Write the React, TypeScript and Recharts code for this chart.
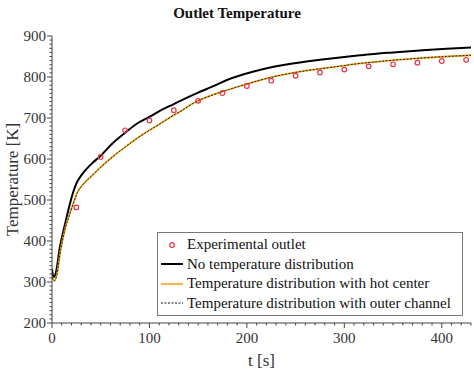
import React from 'react';
import { ComposedChart, Line, Scatter, XAxis, YAxis, Legend } from 'recharts';

const FONT = "'Liberation Serif', Tinos, 'Times New Roman', 'DejaVu Serif', serif";

// Experimental outlet
const expTime = [25, 50, 75, 100, 125, 150, 175, 200, 225, 250, 275, 300, 325, 350, 375, 400, 425];
const expTemp = [482, 605, 670, 694, 719, 742, 761, 778, 791, 803, 811, 818, 826, 831, 835, 839, 842];

// No temperature distribution
const noDistTime = [0, 1.5, 3, 5, 8, 12, 16, 20, 23, 26, 30, 40, 50, 62, 75, 87, 100, 112, 125, 137, 150, 165, 179, 196, 213, 230, 247, 265, 282, 300, 316, 333, 350, 367, 384, 405, 430];
const noDistTemp = [332, 312, 315, 335, 384, 427, 468, 505, 528, 545, 560, 587, 608, 638, 664, 686, 703, 719, 734, 748, 762, 777, 792, 806, 817, 826, 833, 839, 844, 849, 853, 857, 860, 863, 866, 869, 872];

// Temperature distribution with hot center
const hotTime = [0, 2.5, 5, 9, 14, 19, 23, 26, 30, 35, 40, 50, 62, 75, 87, 100, 111, 125, 131, 145, 160, 174.5, 196, 213, 230, 247, 265, 282, 300, 316, 333, 350, 367, 384, 405, 430];
const hotTemp = [312, 303, 318, 380, 435, 472, 500, 518, 533, 546, 557, 580, 605, 629, 650, 670, 686, 707, 715, 736, 752, 764, 780, 792, 802, 810, 817, 822, 828, 833, 837, 841, 844, 847, 850, 853];

// Temperature distribution with outer channel
const outerTime = [0, 2.5, 5, 9, 14, 19, 23, 26, 30, 35, 40, 50, 62, 75, 87, 100, 111, 125, 131, 145, 160, 174.5, 196, 213, 230, 247, 265, 282, 300, 316, 333, 350, 367, 384, 405, 430];
const outerTemp = [311, 303, 318, 380, 434, 471, 499, 518, 533, 546, 557, 580, 605, 629, 650, 670, 686, 707, 715, 736, 752, 764, 780, 792, 802, 810, 817, 822, 828, 833, 837, 841, 844, 847, 850, 853];

const xMajorTicks = [0, 100, 200, 300, 400];
const yMajorTicks = [200, 300, 400, 500, 600, 700, 800, 900];

const seriesNames = [
  'Experimental outlet',
  'No temperature distribution',
  'Temperature distribution with hot center',
  'Temperature distribution with outer channel',
];

const toData = (ts: number[], vs: number[]) => ts.map((t, i) => ({ t, T: vs[i] }));
const expData = toData(expTime, expTemp);
const noDistData = toData(noDistTime, noDistTemp);
const hotData = toData(hotTime, hotTemp);
const outerData = toData(outerTime, outerTemp);

const range = (a: number, b: number, s: number) => {
  const r: number[] = [];
  for (let v = a; v <= b + 1e-9; v += s) r.push(v);
  return r;
};
const xTicks = range(0, 430, 10);
const yTicks = range(200, 900, 10);

const AXIS = '#444';
const TEXT = '#333';
const RED = '#e8364a';
const GOLD = '#f2a516';

const YTick = (props: any) => {
  const { x, y, payload } = props;
  const major = yMajorTicks.includes(payload.value);
  return (
    <g>
      <line x1={x} x2={x - (major ? 5 : 2.5)} y1={y} y2={y} stroke={AXIS} strokeWidth={1} />
      {major && (
        <text x={x - 6} y={y} dy="0.35em" textAnchor="end" fill={TEXT} fontSize={15} style={{ fontFamily: FONT }}>
          {payload.value}
        </text>
      )}
    </g>
  );
};

const XTick = (props: any) => {
  const { x, y, payload } = props;
  const major = xMajorTicks.includes(payload.value);
  return (
    <g>
      <line x1={x} x2={x} y1={y} y2={y + (major ? 5 : 2.5)} stroke={AXIS} strokeWidth={1} />
      {major && (
        <text x={x} y={y + 8} dy="0.8em" textAnchor="middle" fill={TEXT} fontSize={15} style={{ fontFamily: FONT }}>
          {payload.value}
        </text>
      )}
    </g>
  );
};

const renderLegend = () => {
  const row = (marker: React.ReactNode, label: string) => (
    <div key={label} style={{ display: 'flex', alignItems: 'center', height: 19.5 }}>
      <svg width={24} height={12} style={{ flex: 'none' }}>
        {marker}
      </svg>
      <span style={{ marginLeft: 3, whiteSpace: 'nowrap' }}>{label}</span>
    </div>
  );
  return (
    <div
      style={{
        border: '1px solid #777',
        padding: '2px 6px 2px 2px',
        background: '#fff',
        fontFamily: FONT,
        fontSize: 15,
        color: '#111',
        lineHeight: '19px',
        boxSizing: 'border-box',
        width: 306,
      }}
    >
      {row(<circle cx={12} cy={6} r={2.3} fill="none" stroke={RED} strokeWidth={1.2} />, seriesNames[0])}
      {row(<line x1={1} x2={23} y1={6} y2={6} stroke="#000" strokeWidth={2} />, seriesNames[1])}
      {row(<line x1={1} x2={23} y1={6} y2={6} stroke={GOLD} strokeWidth={1.6} />, seriesNames[2])}
      {row(<line x1={1} x2={23} y1={6} y2={6} stroke="#111" strokeWidth={1} strokeDasharray="2 1.5" />, seriesNames[3])}
    </div>
  );
};

export default function App() {
  return (
    <div style={{ position: 'absolute', left: 0, top: 0, width: 474, height: 369, background: '#fff', fontFamily: FONT }}>
      <div
        style={{
          position: 'absolute',
          left: 0,
          top: 5,
          width: 474,
          textAlign: 'center',
          fontWeight: 'bold',
          fontSize: 15,
          color: '#111',
          fontFamily: FONT,
        }}
      >
        Outlet Temperature
      </div>
      <ComposedChart width={474} height={369} margin={{ top: 36, right: 3, bottom: 0, left: 0 }}>
        <XAxis
          dataKey="t"
          type="number"
          domain={[0, 430]}
          ticks={xTicks}
          interval={0}
          tickSize={0}
          tickMargin={0}
          tickLine={false}
          tick={<XTick />}
          height={46}
          stroke={AXIS}
          allowDataOverflow
          label={{ value: 't [s]', position: 'insideBottom', offset: 3, fill: TEXT, fontSize: 17, style: { fontFamily: FONT } }}
        />
        <YAxis
          type="number"
          domain={[200, 900]}
          ticks={yTicks}
          interval={0}
          tickSize={0}
          tickMargin={0}
          tickLine={false}
          tick={<YTick />}
          width={52}
          stroke={AXIS}
          allowDataOverflow
          label={{
            value: 'Temperature [K]',
            angle: -90,
            position: 'insideLeft',
            offset: 12,
            fill: TEXT,
            fontSize: 17,
            style: { textAnchor: 'middle', fontFamily: FONT },
          }}
        />
        <Legend
          layout="vertical"
          align="center"
          verticalAlign="middle"
          content={renderLegend}
          wrapperStyle={{ position: 'absolute', left: 157, top: 232, width: 306, height: 81 }}
        />
        <Line
          data={noDistData}
          dataKey="T"
          name={seriesNames[1]}
          type="monotone"
          stroke="#000"
          strokeWidth={2}
          dot={false}
          isAnimationActive={false}
        />
        <Line
          data={hotData}
          dataKey="T"
          name={seriesNames[2]}
          type="monotone"
          stroke={GOLD}
          strokeWidth={1.8}
          dot={false}
          isAnimationActive={false}
        />
        <Line
          data={outerData}
          dataKey="T"
          name={seriesNames[3]}
          type="monotone"
          stroke="#222"
          strokeWidth={1}
          strokeDasharray="2 1.5"
          dot={false}
          isAnimationActive={false}
        />
        <Scatter
          data={expData}
          dataKey="T"
          name={seriesNames[0]}
          isAnimationActive={false}
          shape={(p: any) => <circle cx={p.cx} cy={p.cy} r={2.3} fill="none" stroke={RED} strokeWidth={1.2} />}
        />
      </ComposedChart>
    </div>
  );
}
